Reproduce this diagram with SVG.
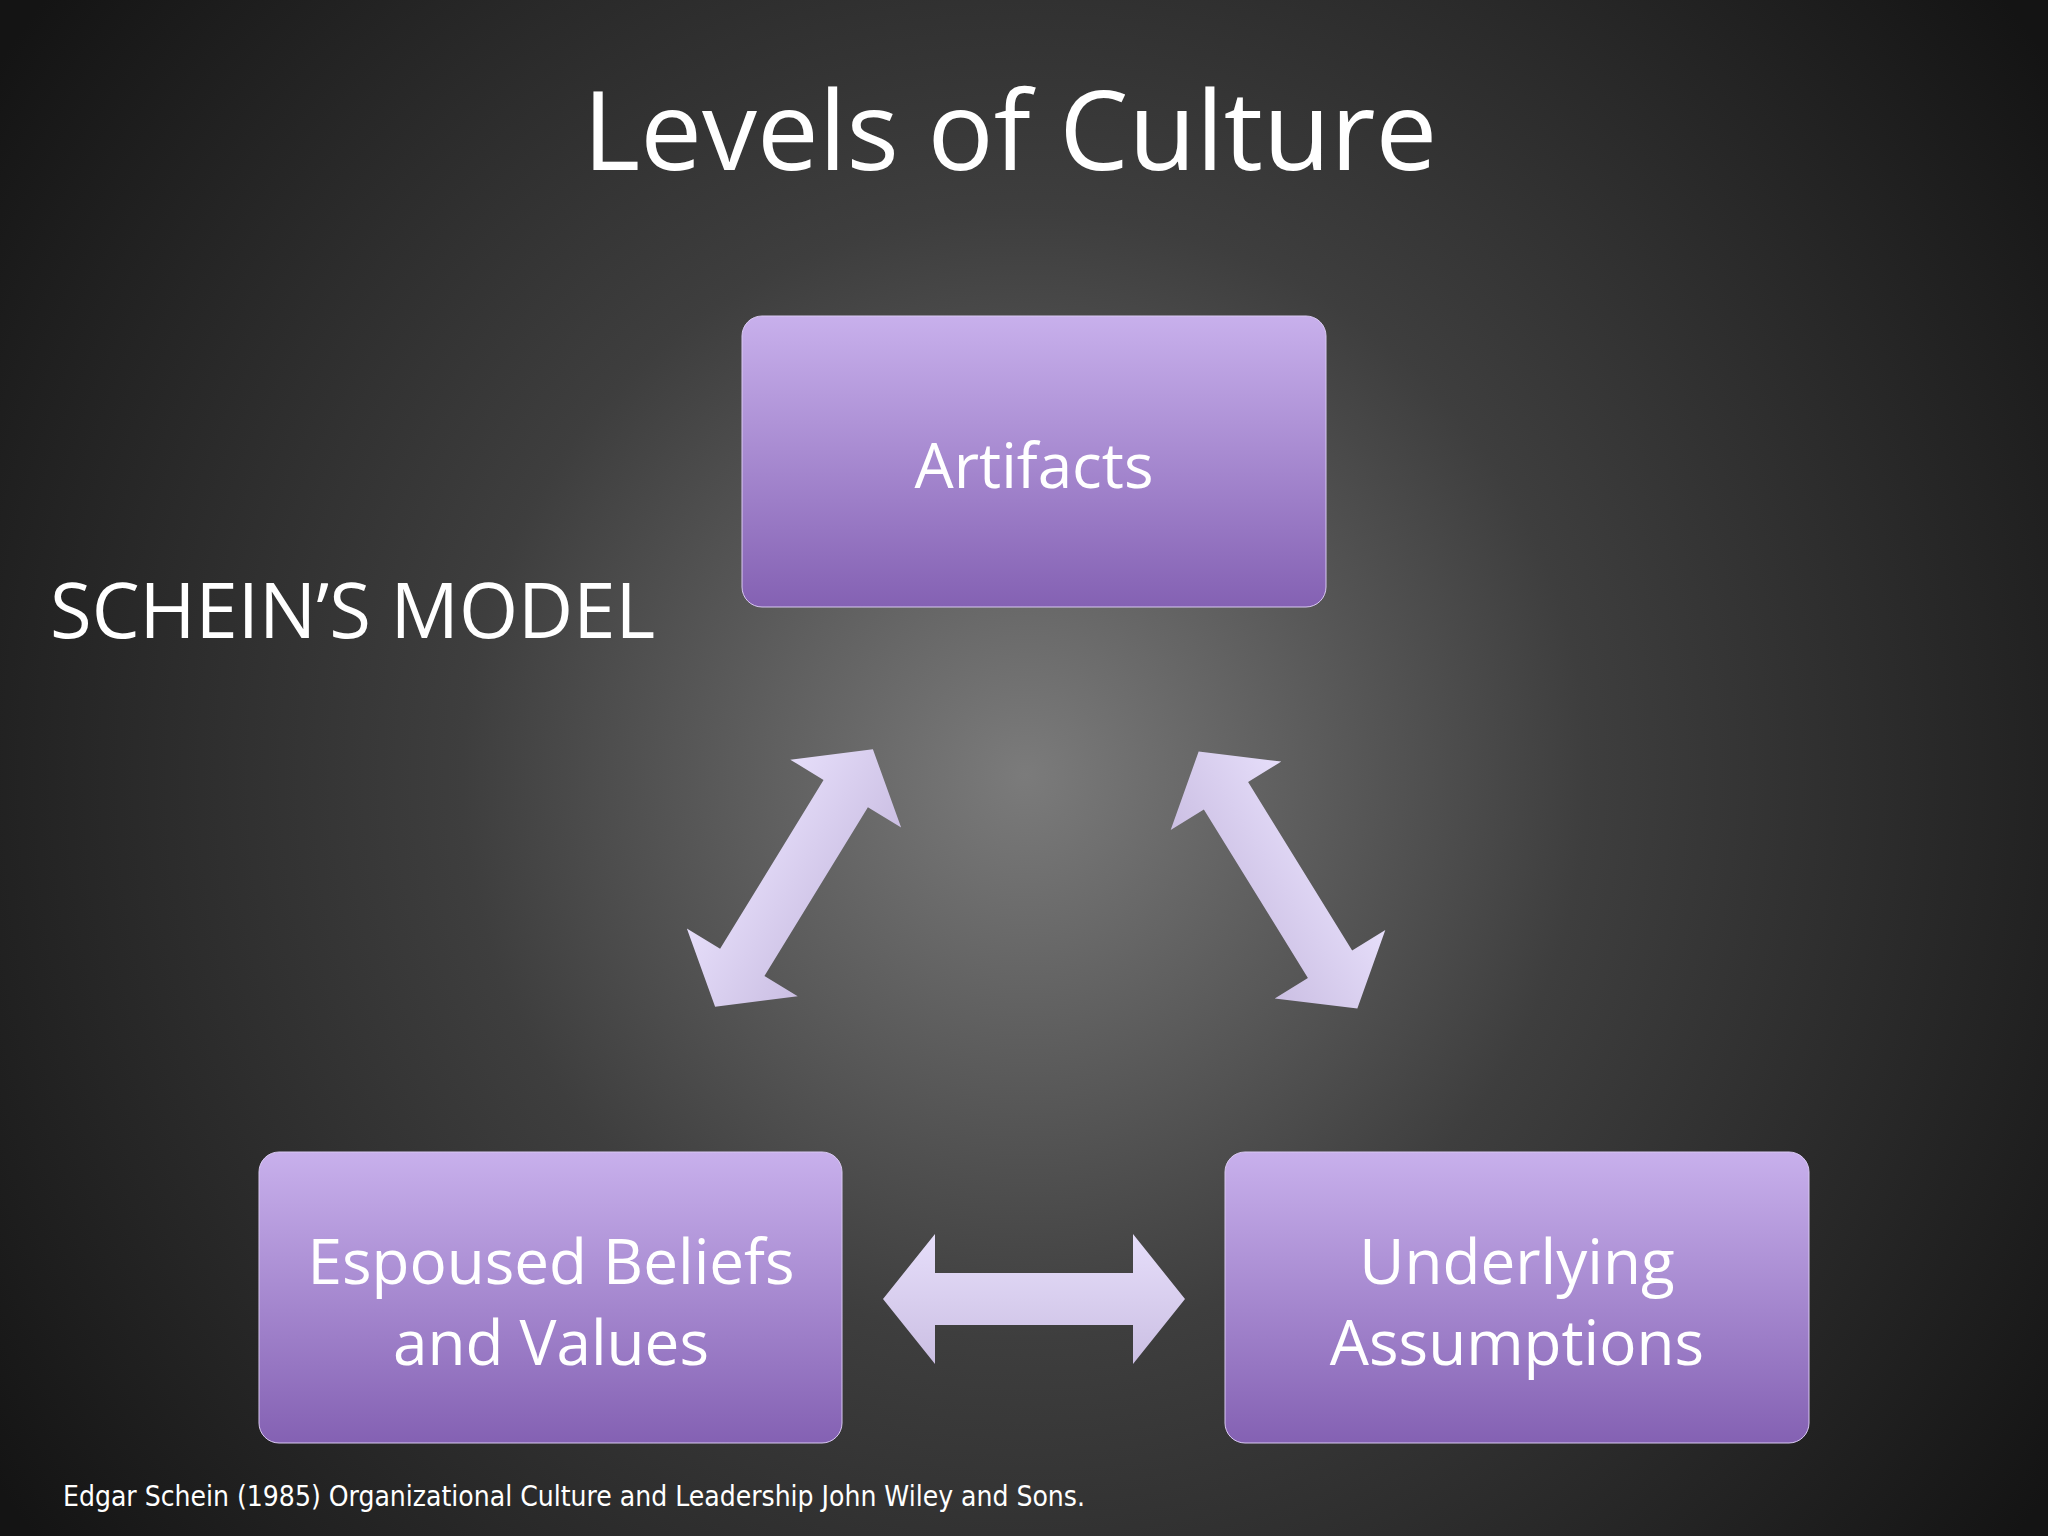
<svg xmlns="http://www.w3.org/2000/svg" width="2048" height="1536" viewBox="0 0 2048 1536">
<defs>
<radialGradient id="bg" cx="1025" cy="775" r="1250" gradientUnits="userSpaceOnUse">
<stop offset="0" stop-color="#7b7b7b"/><stop offset="0.45" stop-color="#3e3e3e"/><stop offset="1" stop-color="#141414"/>
</radialGradient>
<linearGradient id="box" x1="0" y1="0" x2="0" y2="1">
<stop offset="0" stop-color="#c8b0ec"/><stop offset="1" stop-color="#8461b3"/>
</linearGradient>
<linearGradient id="arr" x1="0" y1="0" x2="0" y2="1">
<stop offset="0" stop-color="#e6defa"/><stop offset="1" stop-color="#cbbfe3"/>
</linearGradient>
<polygon id="dbl" points="-151,0 -99,-65 -99,-26 99,-26 99,-65 151,0 99,65 99,26 -99,26 -99,65"/>
</defs>
<style>
.b{fill:url(#box);stroke:#d9c9f2;stroke-width:1}
.t{font-family:"Open Sans","Noto Sans",sans-serif;fill:#fff;text-anchor:middle}
.a{fill:url(#arr)}
</style>
<rect width="2048" height="1536" fill="url(#bg)"/>
<text class="t" x="1010" y="170" font-size="110">Levels of Culture</text>
<text x="50" y="638" font-family="Open Sans, sans-serif" font-size="76" fill="#fff">SCHEIN’S MODEL</text>
<g id="connectors">
<use href="#dbl" class="a" transform="translate(794,878) rotate(-58.5)"/>
<use href="#dbl" class="a" transform="translate(1278,880) rotate(58.3)"/>
<use href="#dbl" class="a" transform="translate(1034,1299)"/>
</g>
<g id="artifacts"><rect class="b" x="742" y="316" width="584" height="291" rx="20"/>
<text class="t" x="1034" y="488" font-size="62">Artifacts</text></g>
<g id="espoused"><rect class="b" x="259" y="1152" width="583" height="291" rx="20"/>
<text class="t" x="551" y="1284" font-size="62">Espoused Beliefs</text>
<text class="t" x="551" y="1365" font-size="62">and Values</text></g>
<g id="underlying"><rect class="b" x="1225" y="1152" width="584" height="291" rx="20"/>
<text class="t" x="1517" y="1284" font-size="62">Underlying</text>
<text class="t" x="1517" y="1365" font-size="62">Assumptions</text></g>
<text x="63" y="1506" font-family="DejaVu Sans Condensed, DejaVu Sans, sans-serif" font-size="28" fill="#fff">Edgar Schein (1985) Organizational Culture and Leadership John Wiley and Sons.</text>
</svg>
